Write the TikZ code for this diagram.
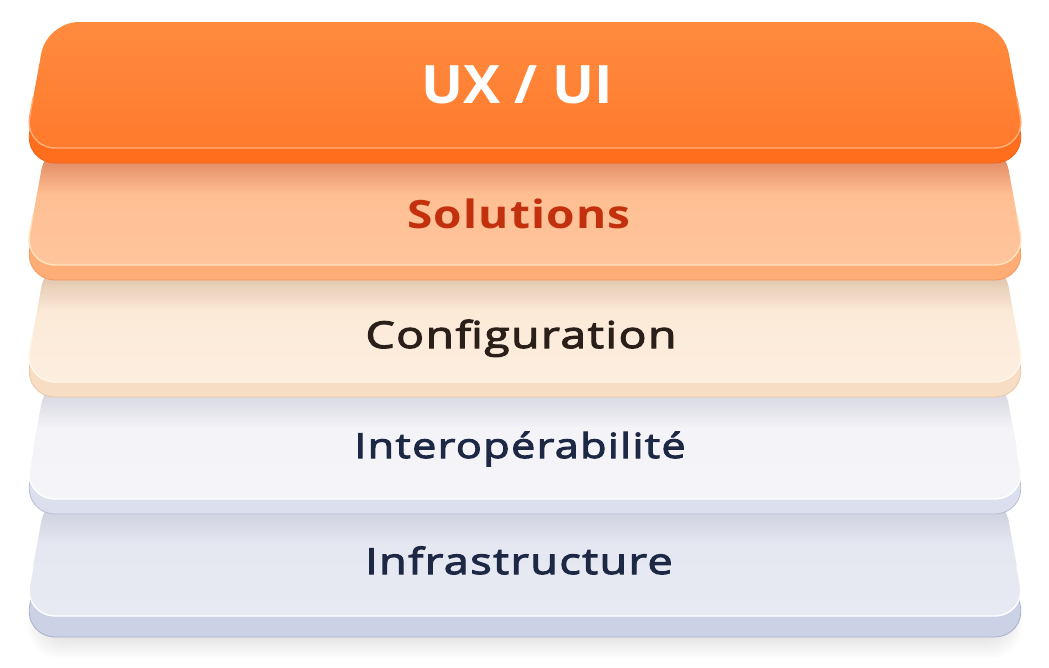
\documentclass[tikz,border=0pt]{standalone}
\usepackage{fontspec}
\setmainfont{Open Sans}
\newfontfamily\headfont{Open Sans}[FakeStretch=1.05]
\newfontfamily\solfont{Open Sans}[FakeStretch=1.18, LetterSpace=3]
\newfontfamily\semifont{Open Sans}[FakeStretch=1.25, LetterSpace=4, FakeBold=3]

% layer colours
\definecolor{uxTop}{HTML}{FF8B3E}
\definecolor{uxBot}{HTML}{FF7A2D}
\definecolor{uxBand}{HTML}{FF6E1C}
\definecolor{uxRim}{HTML}{FFB07A}
\definecolor{uxEdge}{HTML}{F2621A}
\definecolor{solShade}{HTML}{E48E66}
\definecolor{solFace}{HTML}{FFBF93}
\definecolor{solLow}{HTML}{FFC59C}
\definecolor{solBand}{HTML}{FFAD77}
\definecolor{solRim}{HTML}{FFE2BE}
\definecolor{solEdge}{HTML}{F39862}
\definecolor{solText}{HTML}{C2300E}
\definecolor{cfgShade}{HTML}{E3C8B0}
\definecolor{cfgFace}{HTML}{FCEAD8}
\definecolor{cfgLow}{HTML}{FDEEE0}
\definecolor{cfgBand}{HTML}{F7DDC4}
\definecolor{cfgRim}{HTML}{FFF5E8}
\definecolor{cfgEdge}{HTML}{E9C8A8}
\definecolor{cfgText}{HTML}{2B2019}
\definecolor{intShade}{HTML}{D9D9E2}
\definecolor{intFace}{HTML}{F3F3F8}
\definecolor{intLow}{HTML}{F5F5F9}
\definecolor{intBand}{HTML}{DCE0EE}
\definecolor{intEdge}{HTML}{B6BCD4}
\definecolor{infShade}{HTML}{D0D3E0}
\definecolor{infFace}{HTML}{E5E8F1}
\definecolor{infLow}{HTML}{E8EAF3}
\definecolor{infBand}{HTML}{CCD2E6}
\definecolor{infEdge}{HTML}{A6AECA}
\definecolor{navyText}{HTML}{1D2844}

\pgfdeclareverticalshading{solShading}{100bp}{color(0bp)=(solLow); color(25bp)=(solLow); color(53bp)=(solFace); color(66bp)=(solShade); color(100bp)=(solShade)}
\pgfdeclareverticalshading{cfgShading}{100bp}{color(0bp)=(cfgLow); color(25bp)=(cfgLow); color(53bp)=(cfgFace); color(66bp)=(cfgShade); color(100bp)=(cfgShade)}
\pgfdeclareverticalshading{intShading}{100bp}{color(0bp)=(intLow); color(25bp)=(intLow); color(53bp)=(intFace); color(66bp)=(intShade); color(100bp)=(intShade)}
\pgfdeclareverticalshading{infShading}{100bp}{color(0bp)=(infLow); color(25bp)=(infLow); color(53bp)=(infFace); color(66bp)=(infShade); color(100bp)=(infShade)}

% top face of a slab, given the y of its front edge
\newcommand{\slabface}[1]{(47,#1-126) -- (1003,#1-126) -- (1026,#1) -- (24,#1) -- cycle}
% light rim along the front edge
\newcommand{\slabrim}[1]{(33,#1-50) -- (24,#1) -- (1026,#1) -- (1017,#1-50)}

\begin{document}
\begin{tikzpicture}[
    x=1pt, y=-1pt,
    slab/.style = {
        rounded corners=32pt
    },
    band/.style = {
        slab,
        line width=0.8pt
    },
    rim/.style = {
        slab,
        line width=1.4pt
    },
    layertext/.style = {
        anchor=base,
        inner sep=0pt
    }
]

\useasboundingbox (0,0) rectangle (1049,667);

% soft shadow under the stack
\foreach \k in {1,...,8}
    \fill [black, opacity=0.012, rounded corners=30pt] (40-1.5*\k,590) rectangle (1010+1.5*\k,638+2.5*\k);

% Infrastructure
\filldraw [band, fill=infBand, draw=infEdge] \slabface{637};
\shade [slab, shading=infShading] \slabface{616};
\draw [rim, white] \slabrim{616};

% Interoperabilite
\filldraw [band, fill=intBand, draw=intEdge] \slabface{514};
\shade [slab, shading=intShading] \slabface{499};
\draw [rim, white] \slabrim{499};

% Configuration
\filldraw [band, fill=cfgBand, draw=cfgEdge] \slabface{397};
\shade [slab, shading=cfgShading] \slabface{382};
\draw [rim, cfgRim] \slabrim{382};

% Solutions
\filldraw [band, fill=solBand, draw=solEdge] \slabface{280};
\shade [slab, shading=solShading] \slabface{265};
\draw [rim, solRim] \slabrim{265};

% UX / UI
\filldraw [band, fill=uxBand, draw=uxEdge] \slabface{163};
\shade [slab, top color=uxTop, bottom color=uxBot] \slabface{148};
\draw [rim, uxRim] \slabrim{148};

\node (uxui) [layertext, text=white, font=\fontsize{53}{53}\selectfont\headfont\bfseries] at (517,103) {UX / UI};
\node (solutions) [layertext, text=solText, font=\fontsize{39}{39}\selectfont\solfont\bfseries] at (519,228) {Solutions};
\node (config) [layertext, text=cfgText, font=\fontsize{37}{37}\selectfont\semifont] at (521,348) {Configuration};
\node (interop) [layertext, text=navyText, font=\fontsize{34.5}{34.5}\selectfont\semifont] at (520,458) {Interopérabilité};
\node (infra) [layertext, text=navyText, font=\fontsize{36}{36}\selectfont\semifont] at (519,574) {Infrastructure};

\end{tikzpicture}
\end{document}
